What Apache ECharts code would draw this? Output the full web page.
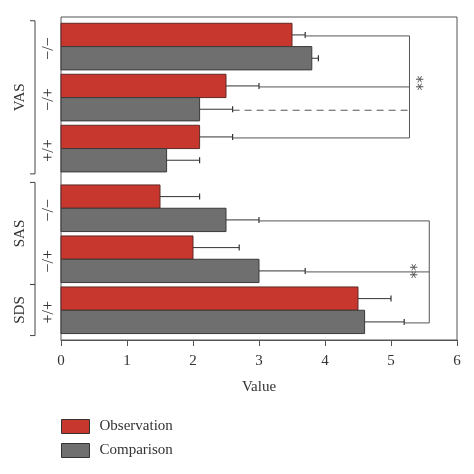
<!DOCTYPE html>
<html>
<head>
<meta charset="utf-8">
<script src="https://cdn.jsdelivr.net/npm/echarts@6/dist/echarts.min.js"></script>
<style>html,body{margin:0;padding:0;background:#fff;}#c{width:474px;height:474px;}</style>
</head>
<body>
<div id="c"></div>
<script>
// ---- data ----
const categories = ['−/−', '−/+', '+/+', '−/−', '−/+', '+/+'];
const groupNames = ['VAS', 'SAS', 'SDS'];
const groupStart = [0, 3, 5];
const groupEnd = [2, 4, 5];
const observation = [3.5, 2.5, 2.1, 1.5, 2.0, 4.5];
const observationErr = [0.2, 0.5, 0.5, 0.6, 0.7, 0.5];
const comparison = [3.8, 2.1, 1.6, 2.5, 3.0, 4.6];
const comparisonErr = [0.1, 0.5, 0.5, 0.5, 0.7, 0.6];
const xTicks = [0, 1, 2, 3, 4, 5, 6];
// significance brackets: [series, categoryIndex, dashed]
const sigVAS = [['o', 0, false], ['o', 1, false], ['c', 1, true], ['o', 2, false]];
const sigSAS = [['c', 3, false], ['c', 4, false], ['c', 5, false]];
const sigLabel = ['**', '**'];

// ---- layout (not data) ----
const BAR_H = 0.457;
const GROUP_GAP = 0.17;
function catPos(i) { return i + 0.58 + (i >= groupStart[1] ? GROUP_GAP : 0); }
function centerOf(s, i) { return s === 'o' ? catPos(i) - BAR_H / 2 : catPos(i) + BAR_H / 2; }
function errEnd(s, i) { return s === 'o' ? observation[i] + observationErr[i] : comparison[i] + comparisonErr[i]; }
const sigSets = [sigVAS, sigSAS];
const sigX = [5.28, 5.58];
const sigStarX = [5.43, 5.34];
const sigStarDy = [-3, 0];

const RED = '#c8372d', RED_B = '#5e2a26';
const GRAY = '#6f6f6f', GRAY_B = '#3a3a3a';
const FONT = 'Liberation Serif';

function barRender(sign, color, border) {
  return function (params, api) {
    const v = api.value(0), e = api.value(1), p = api.value(2);
    const y0 = sign < 0 ? p - BAR_H : p;
    const y1 = y0 + BAR_H;
    const a = api.coord([0, y0]);
    const b = api.coord([v, y1]);
    const yc = api.coord([0, (y0 + y1) / 2])[1];
    const xe = api.coord([v + e, 0])[0];
    return {
      type: 'group',
      children: [
        { type: 'rect', shape: { x: a[0], y: a[1], width: b[0] - a[0], height: b[1] - a[1] },
          style: { fill: color, stroke: border, lineWidth: 1 } },
        { type: 'line', shape: { x1: b[0], y1: yc, x2: xe, y2: yc }, style: { stroke: '#333', lineWidth: 1 } },
        { type: 'line', shape: { x1: xe, y1: yc - 3, x2: xe, y2: yc + 3 }, style: { stroke: '#333', lineWidth: 1.2 } }
      ]
    };
  };
}

const obsData = observation.map((v, i) => [v, observationErr[i], catPos(i)]);
const cmpData = comparison.map((v, i) => [v, comparisonErr[i], catPos(i)]);

const chart = echarts.init(document.getElementById('c'), null, { renderer: 'canvas' });
chart.setOption({
  animation: false,
  backgroundColor: '#fff',
  grid: { left: 61, right: 17, top: 17, bottom: 134, show: true, borderColor: '#555', borderWidth: 1, backgroundColor: 'transparent' },
  legend: {
    data: ['Observation', 'Comparison'],
    orient: 'vertical', left: 56, top: 414,
    itemWidth: 28, itemHeight: 14, itemGap: 9, icon: 'rect',
    itemStyle: { borderColor: '#333', borderWidth: 1 },
    textStyle: { fontFamily: FONT, fontSize: 15, color: '#333', padding: [0, 0, 0, 5] }
  },
  xAxis: {
    type: 'value', min: xTicks[0], max: xTicks[xTicks.length - 1], interval: 1, position: 'bottom',
    name: 'Value', nameLocation: 'middle', nameGap: 40,
    nameTextStyle: { fontFamily: FONT, fontSize: 15, color: '#333' },
    axisLine: { show: true, onZero: false, lineStyle: { color: '#555', width: 1 } },
    axisTick: { show: true, length: 6, lineStyle: { color: '#555' } },
    axisLabel: { fontFamily: FONT, fontSize: 15, color: '#333', margin: 14 },
    splitLine: { show: false }
  },
  yAxis: {
    type: 'value', inverse: true, min: 0, max: 6.333,
    axisLine: { show: false, onZero: false }, axisTick: { show: false }, axisLabel: { show: false }, splitLine: { show: false }
  },
  series: [
    { name: 'Observation', type: 'custom', data: obsData, renderItem: barRender(-1, RED, RED_B),
      itemStyle: { color: RED, borderColor: RED_B, borderWidth: 1 }, encode: { x: 0, y: 2 } },
    { name: 'Comparison', type: 'custom', data: cmpData, renderItem: barRender(1, GRAY, GRAY_B),
      itemStyle: { color: GRAY, borderColor: GRAY_B, borderWidth: 1 }, encode: { x: 0, y: 2 } },
    { name: 'sig', type: 'custom', data: sigX.map((x, k) => [x, k]), silent: true,
      renderItem: function (params, api) {
        const k = params.dataIndex;
        const set = sigSets[k];
        const xb = api.coord([sigX[k], 0])[0];
        const children = [];
        let yTop = Infinity, yBot = -Infinity;
        set.forEach(m => {
          const y = api.coord([0, centerOf(m[0], m[1])])[1];
          const x0 = api.coord([errEnd(m[0], m[1]), 0])[0];
          yTop = Math.min(yTop, y); yBot = Math.max(yBot, y);
          children.push({ type: 'line', shape: { x1: x0, y1: y + 1, x2: xb, y2: y + 1 },
            style: { stroke: '#555', lineWidth: 1, lineDash: m[2] ? [7, 5] : null } });
        });
        children.push({ type: 'line', shape: { x1: xb, y1: yTop + 1, x2: xb, y2: yBot + 1 }, style: { stroke: '#555', lineWidth: 1 } });
        const xs = api.coord([sigStarX[k], 0])[0] + 5;
        const ym = (yTop + yBot) / 2 + sigStarDy[k];
        children.push({ type: 'text', x: xs, y: ym, rotation: Math.PI / 2,
          style: { text: sigLabel[k], fill: '#555', font: '15px "DejaVu Sans"', align: 'center', verticalAlign: 'middle' } });
        return { type: 'group', children };
      } },
    { name: 'catLabels', type: 'custom', data: categories.map((c, i) => [0, catPos(i)]), silent: true,
      renderItem: function (params, api) {
        const i = params.dataIndex;
        const pt = api.coord([0, catPos(i)]);
        return { type: 'text', x: 49, y: pt[1] + 2, rotation: Math.PI / 2,
          style: { text: categories[i], fill: '#333', font: '16px "' + FONT + '"', align: 'center', verticalAlign: 'middle' } };
      } },
    { name: 'groups', type: 'custom', data: groupNames.map((g, k) => [0, k]), silent: true,
      renderItem: function (params, api) {
        const k = params.dataIndex;
        const yT = api.coord([0, catPos(groupStart[k]) - BAR_H])[1] - 2.5;
        const yB = api.coord([0, catPos(groupEnd[k]) + BAR_H])[1] + 2;
        const xL = 35;
        return { type: 'group', children: [
          { type: 'line', shape: { x1: xL, y1: yT, x2: xL, y2: yB }, style: { stroke: '#444', lineWidth: 1 } },
          { type: 'line', shape: { x1: xL - 5, y1: yT, x2: xL, y2: yT }, style: { stroke: '#444', lineWidth: 1 } },
          { type: 'line', shape: { x1: xL - 5, y1: yB, x2: xL, y2: yB }, style: { stroke: '#444', lineWidth: 1 } },
          { type: 'text', x: 20, y: (yT + yB) / 2, rotation: Math.PI / 2,
            style: { text: groupNames[k], fill: '#333', font: '15px "' + FONT + '"', align: 'center', verticalAlign: 'middle' } }
        ] };
      } }
  ]
});
</script>
</body>
</html>
